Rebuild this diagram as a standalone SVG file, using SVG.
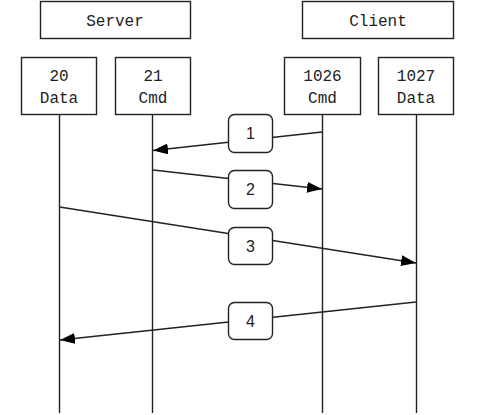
<svg xmlns="http://www.w3.org/2000/svg" width="477" height="415" viewBox="0 0 477 415">
<style>
.box{fill:#fff;stroke:#222;stroke-width:1.4}
.lbl{font-family:"Liberation Mono","DejaVu Sans Mono",monospace;font-size:16px;fill:#222;text-anchor:middle}
.num{font-family:"Liberation Sans",Arial,sans-serif;font-size:16px;fill:#222;text-anchor:middle}
.life{stroke:#222;stroke-width:1.4}
.msg{stroke:#222;stroke-width:1.4;fill:none;marker-end:url(#ah)}
.step{fill:#fff;stroke:#222;stroke-width:1.4}
</style>
<defs>
<marker id="ah" markerUnits="userSpaceOnUse" markerWidth="16" markerHeight="12" refX="15" refY="5.5" orient="auto">
<path d="M0,0 L15,5.5 L0,11 z" fill="#000"/>
</marker>
</defs>
<rect width="477" height="415" fill="#fff"/>
<g id="server"><rect class="box" x="40.5" y="1.5" width="150" height="37"/><text class="lbl" x="115" y="26">Server</text></g>
<g id="client"><rect class="box" x="302.5" y="1.5" width="151" height="37"/><text class="lbl" x="378" y="26">Client</text></g>
<g id="lifelines">
<line class="life" x1="59.5" y1="115" x2="59.5" y2="413"/>
<line class="life" x1="152.5" y1="115" x2="152.5" y2="413"/>
<line class="life" x1="322.5" y1="115" x2="322.5" y2="413"/>
<line class="life" x1="416.5" y1="115" x2="416.5" y2="413"/>
</g>
<g id="p20"><rect class="box" x="21.5" y="57.5" width="75" height="57"/><text class="lbl" x="59" y="81">20</text><text class="lbl" x="59" y="103">Data</text></g>
<g id="p21"><rect class="box" x="115.5" y="57.5" width="75" height="57"/><text class="lbl" x="153" y="81">21</text><text class="lbl" x="153" y="103">Cmd</text></g>
<g id="p1026"><rect class="box" x="284.5" y="57.5" width="76" height="57"/><text class="lbl" x="322.5" y="81">1026</text><text class="lbl" x="322.5" y="103">Cmd</text></g>
<g id="p1027"><rect class="box" x="378.5" y="57.5" width="75" height="57"/><text class="lbl" x="416" y="81">1027</text><text class="lbl" x="416" y="103">Data</text></g>
<g id="connectors">
<line class="msg" x1="322" y1="132" x2="153" y2="150.5"/>
<line class="msg" x1="153" y1="170" x2="322" y2="189"/>
<line class="msg" x1="59.5" y1="207" x2="416" y2="263"/>
<line class="msg" x1="416" y1="302" x2="60" y2="340"/>
</g>
<g id="s1"><rect class="step" x="228.5" y="114.5" width="44" height="38" rx="6"/><text class="num" x="250.5" y="139">1</text></g>
<g id="s2"><rect class="step" x="228.5" y="170.5" width="44" height="38" rx="6"/><text class="num" x="250.5" y="195">2</text></g>
<g id="s3"><rect class="step" x="228.5" y="227.5" width="44" height="37" rx="6"/><text class="num" x="250.5" y="251.5">3</text></g>
<g id="s4"><rect class="step" x="228.5" y="302.5" width="44" height="37" rx="6"/><text class="num" x="250.5" y="326.5">4</text></g>
</svg>
